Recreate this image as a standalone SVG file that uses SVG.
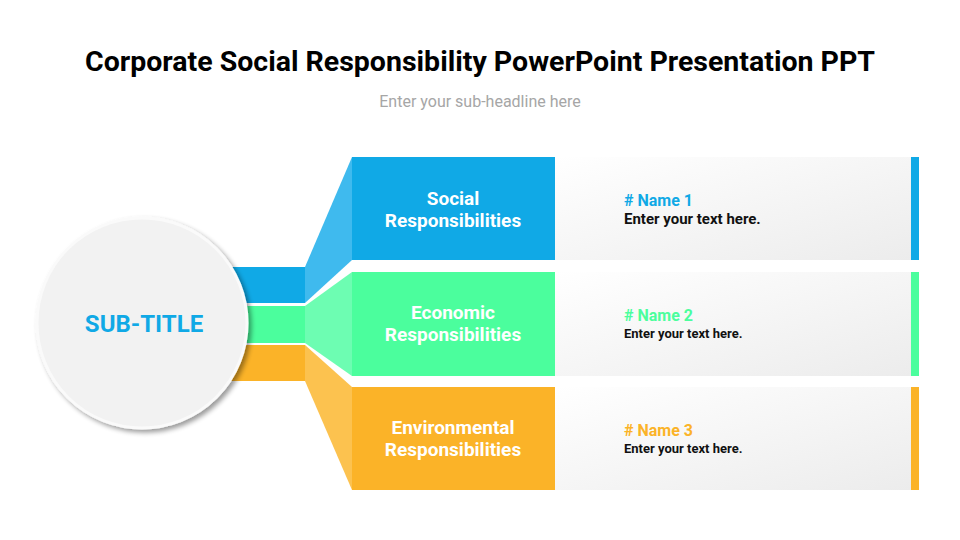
<svg xmlns="http://www.w3.org/2000/svg" width="960" height="540" viewBox="0 0 960 540">
<defs>
<linearGradient id="gbox" x1="0" y1="0" x2="1" y2="1">
<stop offset="0" stop-color="#ffffff"/>
<stop offset="1" stop-color="#ececec"/>
</linearGradient>
<filter id="sh" x="-20%" y="-20%" width="150%" height="150%">
<feGaussianBlur in="SourceAlpha" stdDeviation="2.5"/>
<feOffset dx="3" dy="3" result="b"/>
<feComponentTransfer><feFuncA type="linear" slope="0.4"/></feComponentTransfer>
<feMerge><feMergeNode/><feMergeNode in="SourceGraphic"/></feMerge>
</filter>
<style>
.t{font-family:Roboto,"Liberation Sans",sans-serif;}
.lbl{font-family:Roboto,"Liberation Sans",sans-serif;font-weight:bold;font-size:19px;fill:#fff;text-anchor:middle;}
.nm{font-family:Roboto,"Liberation Sans",sans-serif;font-weight:bold;font-size:16px;}
.tx{font-family:Roboto,"Liberation Sans",sans-serif;font-weight:bold;fill:#111;}
</style>
</defs>
<rect width="960" height="540" fill="#fff"/>
<text class="t" x="480" y="71" font-size="28.5" font-weight="bold" text-anchor="middle" fill="#000">Corporate Social Responsibility PowerPoint Presentation PPT</text>
<text class="t" x="480" y="107" font-size="16" text-anchor="middle" fill="#a6a6a6">Enter your sub-headline here</text>

<g id="connectors">
<rect x="225" y="267" width="80" height="36" fill="#10a9e6"/>
<rect x="225" y="306" width="80" height="37" fill="#4bfe9d"/>
<rect x="225" y="345" width="80" height="36" fill="#fbb328"/>
<polygon points="305,267 352,157 352,260 305,303" fill="#3fbaee"/>
<polygon points="305,306 352,272 352,376 305,343" fill="#6dfdb2"/>
<polygon points="305,345 352,387 352,490 305,381" fill="#fcc24f"/>
</g>

<g id="center">
<circle cx="142" cy="323" r="105" fill="#f2f2f2" stroke="#fafafa" stroke-width="3" filter="url(#sh)"/>
<text class="t" x="144" y="332" font-size="24" font-weight="bold" text-anchor="middle" fill="#10a9e6">SUB-TITLE</text>
</g>

<g id="social">
<rect x="352" y="157" width="203" height="103" fill="#10a9e6"/>
<rect x="555" y="157" width="356" height="103" fill="url(#gbox)"/>
<rect x="911" y="157" width="8" height="103" fill="#10a9e6"/>
<text class="lbl" x="453" y="205">Social</text>
<text class="lbl" x="453" y="227">Responsibilities</text>
<text class="nm" x="624" y="206" fill="#10a9e6"># Name 1</text>
<text class="tx" x="624" y="224" font-size="15">Enter your text here.</text>
</g>

<g id="economic">
<rect x="352" y="272" width="203" height="104" fill="#4bfe9d"/>
<rect x="555" y="272" width="356" height="104" fill="url(#gbox)"/>
<rect x="911" y="272" width="8" height="104" fill="#4bfe9d"/>
<text class="lbl" x="453" y="319">Economic</text>
<text class="lbl" x="453" y="341">Responsibilities</text>
<text class="nm" x="624" y="321" fill="#4bfe9d"># Name 2</text>
<text class="tx" x="624" y="338" font-size="13">Enter your text here.</text>
</g>

<g id="environmental">
<rect x="352" y="387" width="203" height="103" fill="#fbb328"/>
<rect x="555" y="387" width="356" height="103" fill="url(#gbox)"/>
<rect x="911" y="387" width="8" height="103" fill="#fbb328"/>
<text class="lbl" x="453" y="434">Environmental</text>
<text class="lbl" x="453" y="456">Responsibilities</text>
<text class="nm" x="624" y="436" fill="#fbb328"># Name 3</text>
<text class="tx" x="624" y="453" font-size="13">Enter your text here.</text>
</g>
</svg>
